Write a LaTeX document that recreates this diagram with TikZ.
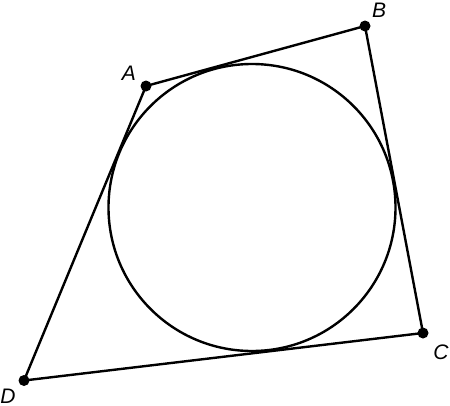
\documentclass[tikz,border=0pt]{standalone}
\usepackage{fontspec}
\setmainfont{Liberation Sans}
\begin{document}
\begin{tikzpicture}[x=1pt,y=-1pt,
  dot/.style={circle,fill=black,inner sep=0pt,minimum size=11pt},
  lbl/.style={font=\fontsize{21}{24}\selectfont\itshape,inner sep=0pt},
  edge/.style={line width=2.4pt,line join=round}]
\useasboundingbox (0,0) rectangle (450,405);
\coordinate (A) at (146,86);
\coordinate (B) at (365,26);
\coordinate (C) at (423,333);
\coordinate (D) at (24,380.5);
\coordinate (O) at (252,207.5);
\draw[edge] (A) -- (B) -- (C) -- (D) -- cycle;
\draw[line width=2.4pt] (O) circle[radius=143.5];
\node[dot] (dA) at (A) {};
\node[dot] (dB) at (B) {};
\node[dot] (dC) at (C) {};
\node[dot] (dD) at (D) {};
\node[lbl] (lA) at (129,73) {A};
\node[lbl] (lB) at (379,10) {B};
\node[lbl] (lC) at (441,352) {C};
\node[lbl] (lD) at (8,396) {D};
\end{tikzpicture}
\end{document}
